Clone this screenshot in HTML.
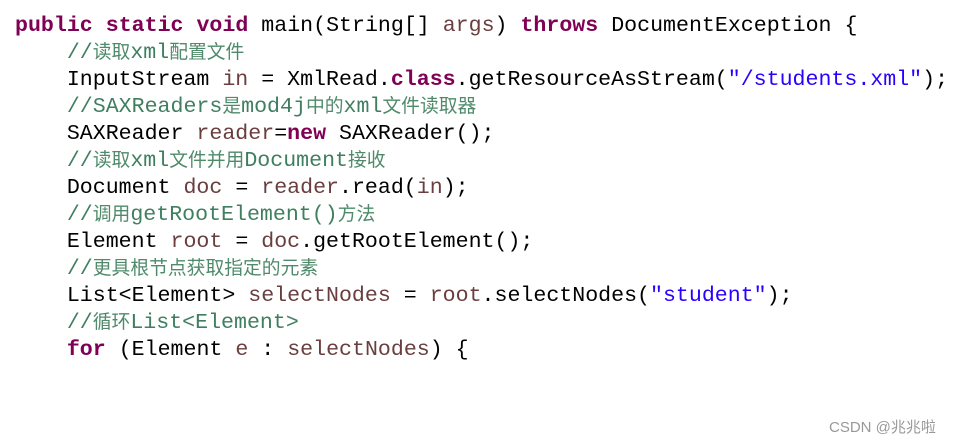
<!DOCTYPE html>
<html><head><meta charset="utf-8"><style>
body{margin:0;width:976px;height:445px;background:#fff;overflow:hidden;position:relative}
.code{position:absolute;left:15px;top:13px;font-family:"Liberation Mono","Noto Sans CJK SC",monospace;font-size:21.6px;line-height:27px;color:#000}
.code div{height:27px;white-space:pre}
.k{color:#7f0055;font-weight:bold}
.c{color:#3f7f5f}
.c i{font-style:normal;font-size:18.8px;line-height:1;font-family:"Noto Sans CJK SC",sans-serif;color:#4f8a6a}
.v{color:#6a3e3e}
.s{color:#2a00ff}
.w{position:absolute;left:829px;top:416px;font-family:"Liberation Sans","Noto Sans CJK SC",sans-serif;font-size:15px;color:#999}
</style></head><body>
<div class="code">
<div><span class="k">public</span> <span class="k">static</span> <span class="k">void</span> main(String[] <span class="v">args</span>) <span class="k">throws</span> DocumentException {</div>
<div>    <span class="c">//<i>读取</i>xml<i>配置文件</i></span></div>
<div>    InputStream <span class="v">in</span> = XmlRead.<span class="k">class</span>.getResourceAsStream(<span class="s">"/students.xml"</span>);</div>
<div>    <span class="c">//SAXReaders<i>是</i>mod4j<i>中的</i>xml<i>文件读取器</i></span></div>
<div>    SAXReader <span class="v">reader</span>=<span class="k">new</span> SAXReader();</div>
<div>    <span class="c">//<i>读取</i>xml<i>文件并用</i>Document<i>接收</i></span></div>
<div>    Document <span class="v">doc</span> = <span class="v">reader</span>.read(<span class="v">in</span>);</div>
<div>    <span class="c">//<i>调用</i>getRootElement()<i>方法</i></span></div>
<div>    Element <span class="v">root</span> = <span class="v">doc</span>.getRootElement();</div>
<div>    <span class="c">//<i>更具根节点获取指定的元素</i></span></div>
<div>    List&lt;Element&gt; <span class="v">selectNodes</span> = <span class="v">root</span>.selectNodes(<span class="s">"student"</span>);</div>
<div>    <span class="c">//<i>循环</i>List&lt;Element&gt;</span></div>
<div>    <span class="k">for</span> (Element <span class="v">e</span> : <span class="v">selectNodes</span>) {</div>
</div>
<div class="w">CSDN @兆兆啦</div>
</body></html>
